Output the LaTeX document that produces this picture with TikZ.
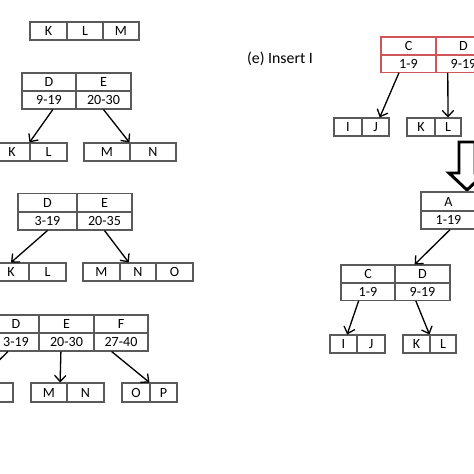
\documentclass[tikz,border=0pt]{standalone}
\usepackage{fontspec}
\setmainfont{Carlito}
\usetikzlibrary{arrows.meta,calc}
\definecolor{boxgray}{RGB}{90,90,90}
\definecolor{redline}{RGB}{208,84,88}
\tikzset{
  cell/.style={rectangle, draw=boxgray, line width=0.6pt, inner sep=0pt, minimum height=0.36cm, font=\fontsize{8}{9}\selectfont},
  cw/.style={minimum width=#1*0.02cm},
  redcell/.style={cell, draw=redline},
  link/.style={-{Straight Barb[length=3.5pt,width=6.5pt]}, line width=0.75pt},
}
\begin{document}
\begin{tikzpicture}[x=0.02cm, y=-0.02cm]
\clip (0,0) rectangle (474,474);
%%%%%%%%%%%%%%%%%%%%%%%%%%%%%%% left column, top leaf
\node[cell, cw=37](k0) at (48.5,31){K};
\node[cell, cw=36](l0) at (85,31){L};
\node[cell, cw=36](m0) at (121,31){M};

%%%%%%%%%%%%%%%%%%%%%%%%%%%%%%% first split
\node[cell, cw=54](d1) at (49,82){D};
\node[cell, cw=55](e1) at (103.5,82){E};
\node[cell, cw=54](d1r) at (49,100){9-19};
\node[cell, cw=55](e1r) at (103.5,100){20-30};

\node[cell, cw=36](k1) at (12,152){K};
\node[cell, cw=37](l1) at (48.5,152){L};
\node[cell, cw=46](m1) at (107,152){M};
\node[cell, cw=46](n1) at (153,152){N};
\draw[link] ($(d1r.south west)!.57!(d1r.south east)$) -- (l1.north west);
\draw[link] (e1r.south) -- (n1.north west);

%%%%%%%%%%%%%%%%%%%%%%%%%%%%%%% second tree
\node[cell, cw=59, minimum height=0.37cm](d2) at (47.5,202.5){D};
\node[cell, cw=55, minimum height=0.37cm](e2) at (104.5,202.5){E};
\node[cell, cw=59](d2r) at (47.5,221){3-19};
\node[cell, cw=55](e2r) at (104.5,221){20-35};

\node[cell, cw=36](k2) at (11,272){K};
\node[cell, cw=37](l2) at (47.5,272){L};
\node[cell, cw=37](m2) at (101.5,272){M};
\node[cell, cw=36](n2) at (138,272){N};
\node[cell, cw=37](o2) at (174.5,272){O};
\draw[link] (d2r.south) -- (k2.north);
\draw[link] (e2r.south) -- ($(n2.north west)!.25!(n2.north east)$);

%%%%%%%%%%%%%%%%%%%%%%%%%%%%%%% third tree
\node[cell, cw=46](d3) at (16,324){D};
\node[cell, cw=55](e3) at (66.5,324){E};
\node[cell, cw=54](f3) at (121,324){F};
\node[cell, cw=46](d3r) at (16,342){3-19};
\node[cell, cw=55](e3r) at (66.5,342){20-30};
\node[cell, cw=54](f3r) at (121,342){27-40};

\node[cell, cw=36, minimum height=0.38cm](lf3) at (-5,392.5){};
\node[cell, cw=36, minimum height=0.38cm](m3) at (49,392.5){M};
\node[cell, cw=37, minimum height=0.38cm](n3) at (85.5,392.5){N};
\node[cell, cw=28, minimum height=0.38cm](o3) at (136,392.5){O};
\node[cell, cw=27, minimum height=0.38cm](p3) at (163.5,392.5){P};
\draw[link] ($(d3r.south west)!.33!(d3r.south east)$) -- (lf3.north west);
\draw[link] ($(e3r.south west)!.4!(e3r.south east)$) -- ($(m3.north west)!.8!(m3.north east)$);
\draw[link] ($(f3r.south west)!.33!(f3r.south east)$) -- (p3.north west);

%%%%%%%%%%%%%%%%%%%%%%%%%%%%%%% (e) insert I
\node[draw=none, font=\fontsize{9}{11}\selectfont](title) at (280,59){(e) Insert I};

\node[redcell, cw=55](c4) at (408.5,46){C};
\node[redcell, cw=55](d4) at (463.5,46){D};
\node[redcell, cw=55, minimum height=0.35cm](c4r) at (408.5,63.5){1-9};
\node[redcell, cw=55, minimum height=0.35cm](d4r) at (463.5,63.5){9-19};

\node[cell, cw=28](i4) at (348,127){I};
\node[cell, cw=27](j4) at (375.5,127){J};
\node[cell, cw=28](k4) at (421,127){K};
\node[cell, cw=26](l4) at (448,127){L};
\draw[link] ($(c4r.south west)!.33!(c4r.south east)$) -- ($(j4.north west)!.65!(j4.north east)$);
\draw[link] ($(d4r.south west)!.22!(d4r.south east)$) -- (l4.north);

% big hollow arrow
\draw[line width=1.7pt, fill=white, line join=miter]
  (459,142) -- (475,142) -- (475,173) -- (485,173) -- (467,190) -- (449,173) -- (459,173) -- cycle;

\node[cell, cw=55, minimum height=0.38cm](a5) at (448.5,201.5){A};
\node[cell, cw=55](a5r) at (448.5,220){1-19};

\node[cell, cw=54](c6) at (368,274){C};
\node[cell, cw=55](d6) at (422.5,274){D};
\node[cell, cw=54, minimum height=0.35cm](c6r) at (368,291.5){1-9};
\node[cell, cw=55, minimum height=0.35cm](d6r) at (422.5,291.5){9-19};
\draw[link] ($(a5r.south west)!.53!(a5r.south east)$) -- ($(d6.north west)!.36!(d6.north east)$);

\node[cell, cw=27](i6) at (343.5,344){I};
\node[cell, cw=28](j6) at (371,344){J};
\node[cell, cw=27](k6) at (416.5,344){K};
\node[cell, cw=26](l6) at (443,344){L};
\draw[link] ($(c6r.south west)!.33!(c6r.south east)$) -- ($(i6.north west)!.63!(i6.north east)$);
\draw[link] ($(d6r.south west)!.38!(d6r.south east)$) -- (l6.north west);

\end{tikzpicture}
\end{document}
